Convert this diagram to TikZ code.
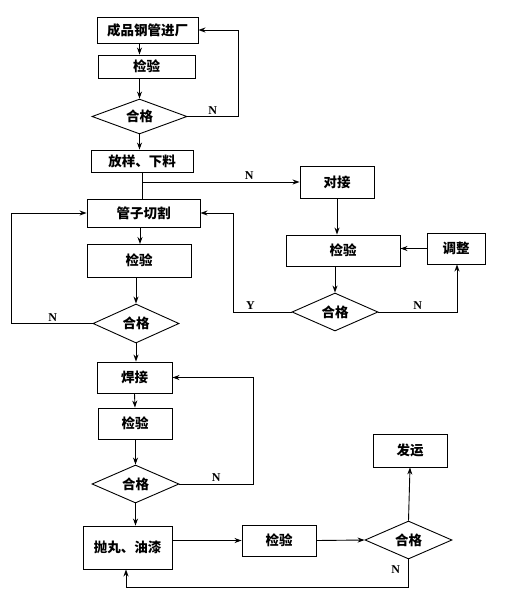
\documentclass[tikz,border=0pt]{standalone}
\usepackage{fontspec}
\newfontfamily\cjk{Noto Sans CJK SC}
\newfontfamily\labfont{Liberation Serif}
\usetikzlibrary{shapes.geometric,arrows.meta}
\tikzset{
  box/.style={draw, line width=0.9pt, inner sep=0pt, font=\cjk\bfseries\fontsize{13.5}{15}\selectfont},
  dia/.style={draw, diamond, aspect=2.3, line width=0.9pt, inner sep=0pt, font=\cjk\bfseries\fontsize{13.5}{15}\selectfont},
  arr/.style={line width=0.9pt, -{Stealth[length=7pt,width=5pt]}},
  ln/.style={line width=0.9pt},
  lab/.style={font=\labfont\bfseries\fontsize{12}{13}\selectfont, inner sep=2pt}
}
\begin{document}
\begin{tikzpicture}[x=1pt,y=-1pt]
\useasboundingbox (0,0) rectangle (514,598);
% column 1
\node[box, minimum width=101pt, minimum height=26pt] (A) at (147.5,30) {成品钢管进厂};
\node[box, minimum width=97pt, minimum height=23pt] (B) at (146.5,66.5) {检验};
\node[dia, minimum width=95pt, minimum height=35pt] (D1) at (139.5,116.5) {合格};
\node[box, minimum width=102pt, minimum height=22pt] (C) at (142,161) {放样、下料};
\node[box, minimum width=113pt, minimum height=28pt] (E) at (143.5,213) {管子切割};
\node[box, minimum width=104pt, minimum height=33pt] (F) at (139,260.5) {检验};
\node[dia, minimum width=86pt, minimum height=39pt] (D2) at (136,323.5) {合格};
\node[box, minimum width=75pt, minimum height=31pt] (G) at (134.5,377.5) {焊接};
\node[box, minimum width=74pt, minimum height=31pt] (H) at (135,423.5) {检验};
\node[dia, minimum width=87pt, minimum height=38pt] (D3) at (135.5,484) {合格};
\node[box, minimum width=89pt, minimum height=43pt] (I) at (127.5,547.5) {抛丸、油漆};
\node[box, minimum width=74pt, minimum height=31pt] (J) at (279,540.5) {检验};
\node[dia, minimum width=87pt, minimum height=38pt] (D4) at (408.5,540) {合格};
\node[box, minimum width=74pt, minimum height=33pt] (K) at (410,450.5) {发运};
% right branch
\node[box, minimum width=74pt, minimum height=32pt] (L) at (337,182) {对接};
\node[box, minimum width=114pt, minimum height=31pt] (M) at (343,250.5) {检验};
\node[box, minimum width=58pt, minimum height=31pt] (P) at (456,248.5) {调整};
\node[dia, minimum width=86pt, minimum height=38pt] (D5) at (335,312) {合格};
% helper coordinates
\coordinate (r1) at (238,116.5);
\coordinate (br) at (142,182);
\coordinate (l2) at (11,323.5);
\coordinate (r3) at (253,484);
\coordinate (b4) at (408.5,587);
\coordinate (b4l) at (126,587);
\coordinate (r5) at (457,312);
\coordinate (y5) at (233,312);
% connectors column 1
\draw[arr] (D1.north |- A.south) -- (D1.north |- B.north);
\draw[arr] (D1.north |- B.south) -- (D1.north);
\draw[arr] (D1.east) -- node[lab, above, pos=0.5]{N} (r1) |- (A.east);
\draw[arr] (D1.south) -- (D1.south |- C.north);
\draw[ln] (C.south) -- (C.south |- E.north);
\draw[arr] (br) -- node[lab, above, pos=0.68]{N} (L.west);
\draw[arr] (140,227) -- (140,244);
\draw[arr] (D2.north |- F.south) -- (D2.north);
\draw[arr] (D2.west) -- node[lab, above, pos=0.49]{N} (l2) |- (E.west);
\draw[arr] (D2.south) -- (D2.south |- G.north);
\draw[arr] (G.south) -- (H.north);
\draw[arr] (D3.north |- H.south) -- (D3.north);
\draw[arr] (D3.east) -- node[lab, above, pos=0.5]{N} (r3) |- (G.east);
\draw[arr] (D3.south) -- (D3.south |- I.north);
\draw[arr] (I.east |- J.west) -- (J.west);
\draw[arr] (J.east) -- (D4.west);
\draw[arr] (D4.north) -- (K.south);
\draw[arr] (D4.south) -- node[lab, left, pos=0.35, xshift=-6pt]{N} (b4) -- (b4l) -- (b4l |- I.south);
% right branch connectors
\draw[arr] (L.south) -- (L.south |- M.north);
\draw[arr] (D5.north |- M.south) -- (D5.north);
\draw[arr] (P.west) -- (P.west -| M.east);
\draw[arr] (D5.east) -- node[lab, above, pos=0.5]{N} (r5) -- (r5 |- P.south);
\draw[arr] (D5.west) -- node[lab, above, pos=0.7]{Y} (y5) |- (E.east);
\end{tikzpicture}
\end{document}
